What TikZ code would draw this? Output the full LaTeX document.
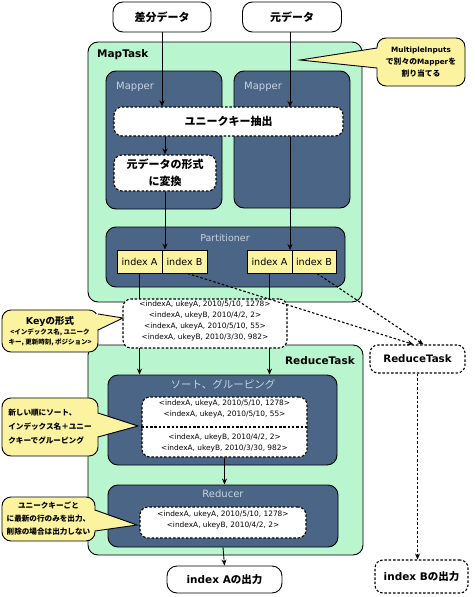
\documentclass[tikz,border=0pt]{standalone}
\usepackage{fontspec}
\setmainfont{Noto Sans CJK JP}
\newfontfamily\dv{DejaVu Sans}
\usetikzlibrary{arrows.meta}
\definecolor{mint}{HTML}{B9F5CE}
\definecolor{slate}{HTML}{4A6585}
\definecolor{lemon}{HTML}{FCF3A0}
\definecolor{pale}{HTML}{C8D4E2}
\begin{document}
\begin{tikzpicture}[x=1pt,y=-1pt,
  task/.style={draw=black,line width=0.9pt,fill=mint,rounded corners=10pt,inner sep=0pt},
  dark/.style={draw=black,line width=0.9pt,fill=slate,rounded corners=10pt,inner sep=0pt},
  dbox/.style={draw=black,line width=1.1pt,dash pattern=on 2.5pt off 1.8pt,fill=white,rounded corners=8pt,inner sep=0pt,align=center,font=\bfseries\fontsize{11}{17}\selectfont},
  sbox/.style={draw=black,line width=0.9pt,fill=white,rounded corners=10pt,inner sep=0pt,align=center,font=\bfseries\fontsize{11}{13}\selectfont},
  ibox/.style={draw=black,line width=0.9pt,fill=lemon,inner sep=0pt,minimum height=23pt,font=\dv\fontsize{9.6}{12}\selectfont},
  call/.style={draw=black,line width=0.9pt,fill=lemon,rounded corners=9pt,inner sep=0pt,align=center,font=\bfseries\fontsize{7.8}{12}\selectfont},
  lab/.style={text=pale,font=\dv\fontsize{10}{12}\selectfont,inner sep=0pt},
  tlab/.style={font=\dv\bfseries\fontsize{10.5}{13}\selectfont,inner sep=0pt},
  keys/.style={font=\dv\fontsize{7.4}{11}\selectfont,align=center,inner sep=0pt},
  arr/.style={-{Stealth[length=6pt,width=5pt]},line width=0.9pt},
  darr/.style={-{Stealth[length=6pt,width=5pt]},line width=1.1pt,dash pattern=on 2.5pt off 2pt},
  ptr/.style={line width=0.9pt,line join=miter}
]
\useasboundingbox (0,0) rectangle (474,597);

% input data
\node[sbox,minimum width=98pt,minimum height=30pt] (d1) at (162,17) {差分データ};
\node[sbox,minimum width=99pt,minimum height=30pt] (d2) at (292,17) {元データ};

% MapTask
\node[task,minimum width=274pt,minimum height=260pt] (map) at (225,172) {};
\node[tlab,anchor=west] (maplab) at (97,55) {MapTask};
\node[dark,minimum width=116pt,minimum height=138pt] (m1) at (164,140) {};
\node[dark,minimum width=116pt,minimum height=137pt] (m2) at (292,139.5) {};
\node[lab,anchor=west] (m1lab) at (116,87) {Mapper};
\node[lab,anchor=west] (m2lab) at (244,87) {Mapper};
\node[dbox,minimum width=229pt,minimum height=29pt] (uniq) at (228.5,121.5) {ユニークキー抽出};
\node[dbox,minimum width=102pt,minimum height=36pt] (conv) at (165,173) {元データの形式\\に変換};
\node[dark,minimum width=239pt,minimum height=60pt] (part) at (225.5,257) {};
\node[lab,font=\dv\fontsize{9.5}{12}\selectfont] (partlab) at (225,238) {Partitioner};
\node[ibox,minimum width=45pt] (iA1) at (139.5,261.5) {index A};
\node[ibox,minimum width=45pt] (iB1) at (184.5,261.5) {index B};
\node[ibox,minimum width=45pt] (iA2) at (269.5,261.5) {index A};
\node[ibox,minimum width=44pt] (iB2) at (314,261.5) {index B};

% ReduceTask
\node[task,minimum width=275pt,minimum height=210pt] (red) at (225.5,450) {};
\node[tlab,anchor=east] (redlab) at (355,361) {ReduceTask};
\node[dark,minimum width=229pt,minimum height=90pt] (sort) at (222.5,420) {};
\node[lab,font=\fontsize{10.5}{12}\selectfont] (sortlab) at (223,384) {ソート、グルーピング};
\node[dbox,minimum width=165pt,minimum height=60pt] (sin) at (224.5,427) {};
\draw[line width=1.1pt,dash pattern=on 2.5pt off 1.8pt] (sin.west) -- (sin.east);
\node[keys] (s1) at (224.5,409) {<indexA, ukeyA, 2010/5/10, 1278>\\<indexA, ukeyA, 2010/5/10, 55>};
\node[keys] (s2) at (224.5,443) {<indexA, ukeyB, 2010/4/2, 2>\\<indexA, ukeyB, 2010/3/30, 982>};
\node[dark,minimum width=230pt,minimum height=62pt] (rdc) at (223,516) {};
\node[lab] (rdclab) at (223,494) {Reducer};
\node[dbox,minimum width=166pt,minimum height=31pt] (rin) at (223,522.5) {};
\node[keys] (r1) at (223,519.5) {<indexA, ukeyA, 2010/5/10, 1278>\\<indexA, ukeyB, 2010/4/2, 2>};

% right side
\node[dbox,minimum width=95pt,minimum height=28pt,font=\dv\bfseries\fontsize{10.3}{13}\selectfont] (rt2) at (417.5,359) {ReduceTask};
\node[dbox,minimum width=93pt,minimum height=33pt,font=\bfseries\fontsize{10.5}{13}\selectfont] (outB) at (421.5,576.5) {{\dv index B}の出力};
\node[sbox,minimum width=115pt,minimum height=27pt,font=\bfseries\fontsize{10.5}{13}\selectfont] (outA) at (224.5,579.5) {{\dv index A}の出力};

% connectors
\draw[arr] (d1.south) -- (d1.south |- uniq.north);
\draw[arr] (d2.south -| 290,0) -- (290,107);
\draw[arr] (uniq.south -| conv.north) -- (conv.north);
\draw[arr] (conv.south) -- (conv.south |- iA1.north);
\draw[arr] (uniq.south -| 290,0) -- (290,250);
\draw[arr] (iA1.south) -- (iA1.south |- sort.north);
\draw[arr] (iA2.south) -- (iA2.south |- sort.north);
\draw[arr] (sin.south) -- (sin.south |- rdc.north);
\draw[arr] (rdc.south) -- (outA.north);
\draw[darr] (rt2.south) -- (rt2.south |- outB.north);

% key list
\node[dbox,minimum width=164pt,minimum height=49pt] (kbox) at (205,323.5) {};
\node[keys] (klist) at (205,321) {<indexA, ukeyA, 2010/5/10, 1278>\\<indexA, ukeyB, 2010/4/2, 2>\\<indexA, ukeyA, 2010/5/10, 55>\\<indexA, ukeyB, 2010/3/30, 982>};
\draw[darr] ([xshift=3pt]iB1.south) -- ([xshift=-4pt]rt2.north);
\draw[darr] ([xshift=3pt]iB2.south) -- ([xshift=6pt]rt2.north);

% callouts
\node[call,minimum width=88pt,minimum height=48pt] (c1) at (421,62) {{\dv\fontsize{7.3}{12}\selectfont MultipleInputs}\\で別々の{\dv\fontsize{7.3}{12}\selectfont Mapper}を\\割り当てる};
\fill[lemon] (379.5,48) -- (300,60) -- (379.5,68) -- cycle;
\draw[ptr] (377,48) -- (300,60) -- (377,68);

\node[call,minimum width=96pt,minimum height=42pt,font=\bfseries\fontsize{6.5}{10}\selectfont] (c2) at (50,331) {{\fontsize{9.5}{12}\selectfont{\dv Key}の形式}\\<インデックス名, ユニーク\\キー, 更新時刻, ポジション>};
\fill[lemon] (95.5,314) -- (123,318) -- (95.5,330) -- cycle;
\draw[ptr] (98,314) -- (123,318) -- (98,330);

\node[call,minimum width=96pt,minimum height=58pt,align=left,font=\bfseries\fontsize{7.6}{14}\selectfont] (c3) at (50,427) {新しい順にソート、\\インデックス名＋ユニー\\クキーでグルーピング};
\fill[lemon] (95.5,413) -- (138,426) -- (95.5,437) -- cycle;
\draw[ptr] (98,413) -- (138,426) -- (98,437);

\node[call,minimum width=93pt,minimum height=44pt,font=\bfseries\fontsize{7.6}{13}\selectfont] (c4) at (48.5,519) {ユニークキーごと\\に最新の行のみを出力、\\削除の場合は出力しない};
\fill[lemon] (92.5,510) -- (137,525) -- (92.5,531) -- cycle;
\draw[ptr] (95,510) -- (137,525) -- (95,531);
\end{tikzpicture}
\end{document}
